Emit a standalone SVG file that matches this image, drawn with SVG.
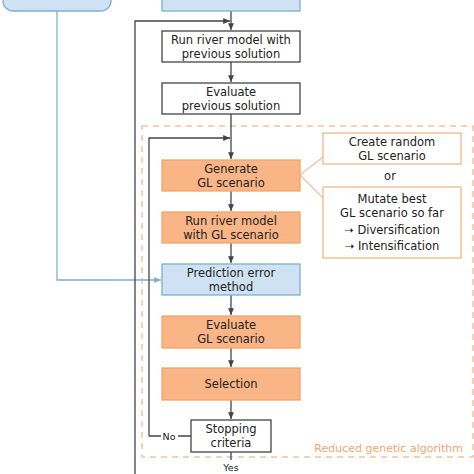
<svg xmlns="http://www.w3.org/2000/svg" width="474" height="474" viewBox="0 0 474 474">
<defs>
<style>
text{font-family:"DejaVu Sans",Verdana,sans-serif;font-size:11.5px;fill:#222;text-anchor:middle}
.w{fill:#fff;stroke:#444;stroke-width:1.3}
.b{fill:#cfe2f3;stroke:#7fafd0;stroke-width:1.3}
.o{fill:#f9b586;stroke:#f3a56c;stroke-width:1.3}
.ow{fill:#fff;stroke:#f3b689;stroke-width:1.3}
.c{fill:none;stroke:#444;stroke-width:1.3}
.cb{fill:none;stroke:#7fafd0;stroke-width:1.3}
.co{fill:none;stroke:#f3c29c;stroke-width:1.3}
</style>
<marker id="a" viewBox="0 0 8 8" refX="7" refY="4" markerWidth="6" markerHeight="6" orient="auto"><path d="M0,1 L7,4 L0,7 Z" fill="#444"/></marker>
<marker id="ab" viewBox="0 0 8 8" refX="7" refY="4" markerWidth="6" markerHeight="6" orient="auto"><path d="M0,1 L7,4 L0,7 Z" fill="#7fafd0"/></marker>
</defs>
<rect x="142" y="126" width="331" height="331" fill="none" stroke="#f3c29c" stroke-width="1.5" stroke-dasharray="6,5"/>
<text x="463" y="452" style="fill:#f2a66b;text-anchor:end;font-size:11px">Reduced genetic algorithm</text>
<g id="connectors">
<path class="cb" d="M57,10 V280 H161" marker-end="url(#ab)"/>
<path class="c" d="M231,10 V30" marker-end="url(#a)"/>
<path class="c" d="M135,474 V21 H230" marker-end="url(#a)"/>
<path class="c" d="M231,62 V82" marker-end="url(#a)"/>
<path class="c" d="M231,114 V159" marker-end="url(#a)"/>
<path class="c" d="M149,436 V138 H230" marker-end="url(#a)"/>
<path class="c" d="M231,191 V211" marker-end="url(#a)"/>
<path class="c" d="M231,243 V263" marker-end="url(#a)"/>
<path class="c" d="M231,295 V315" marker-end="url(#a)"/>
<path class="c" d="M231,348 V367" marker-end="url(#a)"/>
<path class="c" d="M231,400 V419" marker-end="url(#a)"/>
<path class="c" d="M191,436 H178 M161,436 H149"/>
<path class="c" d="M231,452 V460"/>
<path class="co" d="M300,175 L323,157 M300,175 L323,198"/>
<text x="169" y="440" style="font-size:9.5px">No</text>
<text x="231" y="471" style="font-size:9.5px">Yes</text>
</g>
<g id="input-left"><rect class="b" x="3" y="-20" width="108" height="31" rx="10"/></g>
<g id="input-center"><rect class="b" x="162" y="-20" width="138" height="31"/></g>
<g id="run-prev"><rect class="w" x="162" y="31" width="138" height="31"/><text x="231" y="44">Run river model with</text><text x="231" y="58">previous solution</text></g>
<g id="eval-prev"><rect class="w" x="162" y="83" width="138" height="31"/><text x="231" y="96">Evaluate</text><text x="231" y="110">previous solution</text></g>
<g id="generate"><rect class="o" x="162" y="160" width="138" height="31"/><text x="231" y="173">Generate</text><text x="231" y="187">GL scenario</text></g>
<g id="run-gl"><rect class="o" x="162" y="212" width="138" height="31"/><text x="231" y="225">Run river model</text><text x="231" y="239">with GL scenario</text></g>
<g id="prediction"><rect class="b" x="162" y="264" width="138" height="31"/><text x="231" y="277">Prediction error</text><text x="231" y="291">method</text></g>
<g id="eval-gl"><rect class="o" x="162" y="316" width="138" height="32"/><text x="231" y="329">Evaluate</text><text x="231" y="343">GL scenario</text></g>
<g id="selection"><rect class="o" x="162" y="368" width="138" height="32"/><text x="231" y="388">Selection</text></g>
<g id="stopping"><rect class="w" x="191" y="420" width="80" height="32"/><text x="231" y="433">Stopping</text><text x="231" y="447">criteria</text></g>
<g id="create-random"><rect class="ow" x="323" y="133" width="138" height="31"/><text x="392" y="146">Create random</text><text x="392" y="160">GL scenario</text></g>
<text x="390" y="180">or</text>
<g id="mutate"><rect class="ow" x="323" y="187" width="138" height="71"/><text x="392" y="203">Mutate best</text><text x="392" y="217">GL scenario so far</text><text x="392" y="234">➝ Diversification</text><text x="392" y="250">➝ Intensification</text></g>
</svg>
